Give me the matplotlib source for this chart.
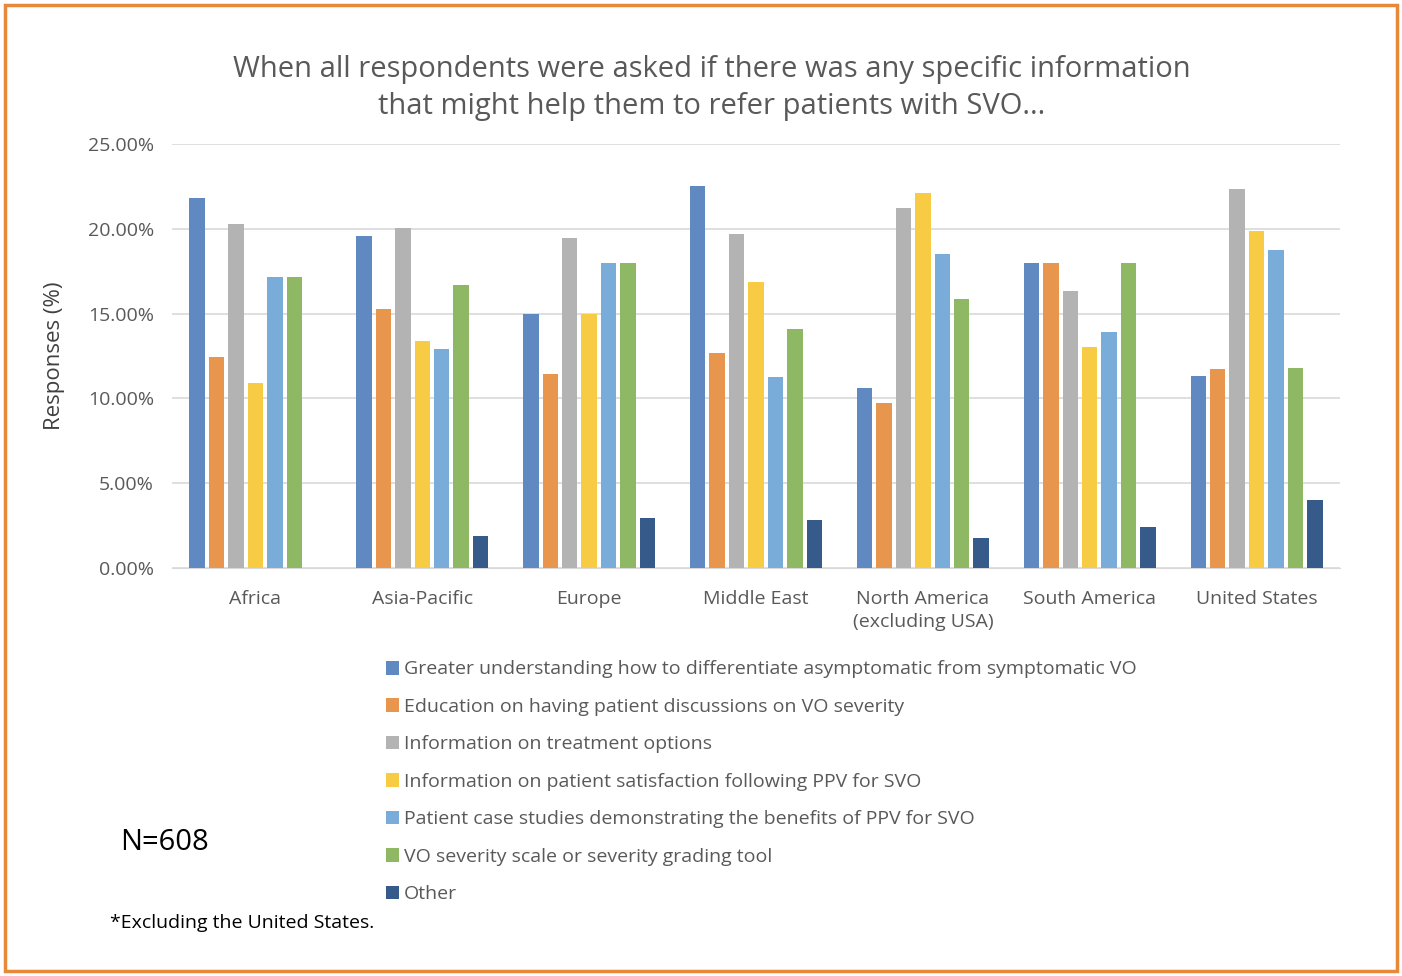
import matplotlib
matplotlib.use("Agg")
import matplotlib.pyplot as plt
import numpy as np
from matplotlib.patches import Rectangle

regions = ["Africa", "Asia-Pacific", "Europe", "Middle East",
           "North America\n(excluding USA)", "South America", "United States"]

series_names = [
    "Greater understanding how to differentiate asymptomatic from symptomatic VO",
    "Education on having patient discussions on VO severity",
    "Information on treatment options",
    "Information on patient satisfaction following PPV for SVO",
    "Patient case studies demonstrating the benefits of PPV for SVO",
    "VO severity scale or severity grading tool",
    "Other",
]

greater_understanding = [21.83, 19.58, 14.98, 22.51, 10.59, 18.00, 11.32]
education_discussions = [12.46, 15.27, 11.46, 12.66, 9.71, 18.00, 11.71]
treatment_options = [20.28, 20.07, 19.48, 19.69, 21.21, 16.35, 22.35]
patient_satisfaction = [10.91, 13.38, 14.98, 16.86, 22.09, 13.05, 19.87]
case_studies = [17.14, 12.89, 17.96, 11.24, 18.53, 13.90, 18.75]
severity_scale = [17.14, 16.70, 17.96, 14.07, 15.88, 18.00, 11.81]
other = [0.0, 1.91, 2.97, 2.81, 1.77, 2.44, 3.99]

colors = ["#6089C1", "#E8964E", "#B3B3B3", "#F8CB45", "#7AACDA", "#8EB864", "#365A8A"]

values = [greater_understanding, education_discussions, treatment_options,
          patient_satisfaction, case_studies, severity_scale, other]

plt.rcParams["font.family"] = ["Open Sans", "DejaVu Sans"]

fig = plt.figure(figsize=(14.02, 9.76), dpi=100)
ax = fig.add_axes([172 / 1402, 1 - 568 / 976, 1168 / 1402, 424 / 976])

x = np.arange(len(regions))
slot = 0.815 / 7
for i, (name, vals, color) in enumerate(zip(series_names, values, colors)):
    offset = (i - 3) * slot
    ax.bar(x + offset, vals, width=slot * 0.8, color=color, label=name, zorder=3)

ax.set_xlim(-0.5, len(regions) - 0.5)
ax.set_ylim(0, 25)
ax.set_yticks(np.arange(0, 25.01, 5))
ax.set_yticklabels([f"{v:.2f}%" for v in np.arange(0, 25.01, 5)], fontsize=14, color="#595959")
ax.set_xticks(x)
ax.set_xticklabels(regions, fontsize=14, color="#595959", linespacing=1.35)
ax.tick_params(length=0)
ax.tick_params(axis="y", pad=13)
ax.tick_params(axis="x", pad=16)
ax.grid(axis="y", color="#d9d9d9", linewidth=1.2, zorder=0)
for side in ["top", "right", "left"]:
    ax.spines[side].set_visible(False)
ax.spines["bottom"].set_color("#d9d9d9")
ax.set_ylabel("Responses (%)", fontsize=16, color="#404040", labelpad=16)

fig.text(712 / 1402, 1 - 88 / 976,
         "When all respondents were asked if there was any specific information\n"
         "that might help them to refer patients with SVO...",
         ha="center", va="center", fontsize=21, color="#595959", linespacing=1.36)

fig.legend(loc="upper left", bbox_to_anchor=(368 / 1402, 1 - 643 / 976), frameon=False,
           fontsize=14, labelcolor="#595959", handlelength=0.7, handleheight=0.7,
           handletextpad=0.25, labelspacing=1.0)

fig.text(120 / 1402, 1 - 843 / 976, "N=608", fontsize=21, color="black", va="center")
fig.text(110 / 1402, 1 - 923 / 976, "*Excluding the United States.", fontsize=14,
         color="black", va="center")

fig.patches.append(Rectangle((5 / 1402, 5 / 976), 1392 / 1402, 966 / 976,
                             transform=fig.transFigure, fill=False,
                             edgecolor="#E8893A", linewidth=2.5))

fig.savefig("out.png", dpi=100)
